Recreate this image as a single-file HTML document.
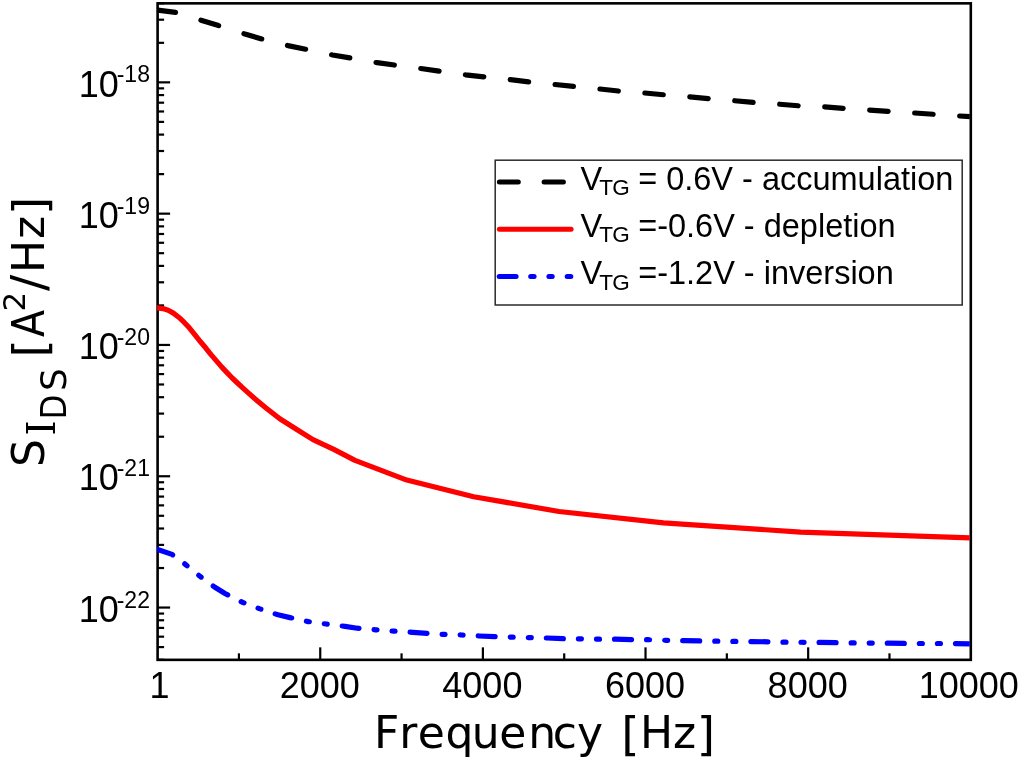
<!DOCTYPE html>
<html><head><meta charset="utf-8"><title>Noise spectra</title>
<style>
html,body{margin:0;padding:0;background:#fff;}
svg{display:block}
.tk{font-family:"Liberation Sans",sans-serif;font-size:36px;fill:#000}
.sup{font-family:"Liberation Sans",sans-serif;font-size:23px;fill:#000}
.lg{font-family:"Liberation Sans",sans-serif;font-size:32.5px;fill:#000}
.lgs{font-family:"Liberation Sans",sans-serif;font-size:22.5px;fill:#000;letter-spacing:-0.6px}
.ax{font-family:"DejaVu Sans",sans-serif;font-size:44px;fill:#000}
</style></head><body>
<svg width="1020" height="759" viewBox="0 0 1020 759">
<rect width="1020" height="759" fill="#fff"/>
<defs><clipPath id="cp"><rect x="157.1" y="3.35" width="812.7" height="656.5"/></clipPath></defs>

<g stroke="#000" stroke-width="2.2" fill="none">
<line x1="157.6" y1="659.80" x2="164.1" y2="659.80"/>
<line x1="157.6" y1="647.08" x2="164.1" y2="647.08"/>
<line x1="157.6" y1="636.68" x2="164.1" y2="636.68"/>
<line x1="157.6" y1="627.89" x2="164.1" y2="627.89"/>
<line x1="157.6" y1="620.27" x2="164.1" y2="620.27"/>
<line x1="157.6" y1="613.56" x2="164.1" y2="613.56"/>
<line x1="157.6" y1="607.55" x2="170.1" y2="607.55"/>
<line x1="157.6" y1="568.02" x2="164.1" y2="568.02"/>
<line x1="157.6" y1="544.90" x2="164.1" y2="544.90"/>
<line x1="157.6" y1="528.50" x2="164.1" y2="528.50"/>
<line x1="157.6" y1="515.78" x2="164.1" y2="515.78"/>
<line x1="157.6" y1="505.38" x2="164.1" y2="505.38"/>
<line x1="157.6" y1="496.59" x2="164.1" y2="496.59"/>
<line x1="157.6" y1="488.97" x2="164.1" y2="488.97"/>
<line x1="157.6" y1="482.26" x2="164.1" y2="482.26"/>
<line x1="157.6" y1="476.25" x2="170.1" y2="476.25"/>
<line x1="157.6" y1="436.72" x2="164.1" y2="436.72"/>
<line x1="157.6" y1="413.60" x2="164.1" y2="413.60"/>
<line x1="157.6" y1="397.20" x2="164.1" y2="397.20"/>
<line x1="157.6" y1="384.48" x2="164.1" y2="384.48"/>
<line x1="157.6" y1="374.08" x2="164.1" y2="374.08"/>
<line x1="157.6" y1="365.29" x2="164.1" y2="365.29"/>
<line x1="157.6" y1="357.67" x2="164.1" y2="357.67"/>
<line x1="157.6" y1="350.96" x2="164.1" y2="350.96"/>
<line x1="157.6" y1="344.95" x2="170.1" y2="344.95"/>
<line x1="157.6" y1="305.42" x2="164.1" y2="305.42"/>
<line x1="157.6" y1="282.30" x2="164.1" y2="282.30"/>
<line x1="157.6" y1="265.90" x2="164.1" y2="265.90"/>
<line x1="157.6" y1="253.18" x2="164.1" y2="253.18"/>
<line x1="157.6" y1="242.78" x2="164.1" y2="242.78"/>
<line x1="157.6" y1="233.99" x2="164.1" y2="233.99"/>
<line x1="157.6" y1="226.37" x2="164.1" y2="226.37"/>
<line x1="157.6" y1="219.66" x2="164.1" y2="219.66"/>
<line x1="157.6" y1="213.65" x2="170.1" y2="213.65"/>
<line x1="157.6" y1="174.12" x2="164.1" y2="174.12"/>
<line x1="157.6" y1="151.00" x2="164.1" y2="151.00"/>
<line x1="157.6" y1="134.60" x2="164.1" y2="134.60"/>
<line x1="157.6" y1="121.88" x2="164.1" y2="121.88"/>
<line x1="157.6" y1="111.48" x2="164.1" y2="111.48"/>
<line x1="157.6" y1="102.69" x2="164.1" y2="102.69"/>
<line x1="157.6" y1="95.07" x2="164.1" y2="95.07"/>
<line x1="157.6" y1="88.36" x2="164.1" y2="88.36"/>
<line x1="157.6" y1="82.35" x2="170.1" y2="82.35"/>
<line x1="157.6" y1="42.82" x2="164.1" y2="42.82"/>
<line x1="157.6" y1="19.70" x2="164.1" y2="19.70"/>
<line x1="157.6" y1="3.30" x2="164.1" y2="3.30"/>
<line x1="238.92" y1="659.85" x2="238.92" y2="653.35"/>
<line x1="320.24" y1="659.85" x2="320.24" y2="647.35"/>
<line x1="401.56" y1="659.85" x2="401.56" y2="653.35"/>
<line x1="482.88" y1="659.85" x2="482.88" y2="647.35"/>
<line x1="564.20" y1="659.85" x2="564.20" y2="653.35"/>
<line x1="645.52" y1="659.85" x2="645.52" y2="647.35"/>
<line x1="726.84" y1="659.85" x2="726.84" y2="653.35"/>
<line x1="808.16" y1="659.85" x2="808.16" y2="647.35"/>
<line x1="889.48" y1="659.85" x2="889.48" y2="653.35"/>
</g>
<rect x="157.6" y="3.35" width="813.2" height="656.5" fill="none" stroke="#000" stroke-width="2.6"/>
<g clip-path="url(#cp)" fill="none" stroke-width="5.2" stroke-linecap="round" stroke-linejoin="round">
<polyline points="157.6,10.2 176.0,12.4 201.0,20.2 218.5,25.6 244.0,33.8 262.0,39.0 288.0,45.6 306.5,49.4 332.5,55.0 351.0,58.1 377.0,62.7 395.0,65.1 420.5,68.5 440.0,71.2 465.5,74.8 484.5,76.9 510.5,79.6 530.0,82.0 555.0,84.5 574.0,86.5 600.0,89.0 619.0,91.1 644.5,93.0 664.0,94.8 689.5,96.9 709.0,98.7 734.5,100.7 754.0,102.5 779.5,104.2 798.5,105.8 824.5,106.9 844.0,108.4 869.5,110.1 888.5,111.4 914.5,113.0 933.5,114.3 959.5,116.0 970.8,116.6" stroke="#000" stroke-dasharray="18.5 26.6" stroke-dashoffset="0.45"/>
<polyline points="157.6,307.9 162.9,308.6 168.2,310.3 173.4,313.1 178.7,317.2 184.0,322.2 189.3,327.8 195.0,334.8 200.5,341.8 206.0,348.3 211.0,354.6 216.0,360.4 221.6,366.9 227.0,372.6 232.2,378.0 237.5,383.0 242.7,387.8 248.0,392.6 254.9,398.8 266.0,407.9 279.8,418.8 296.4,429.3 313.0,439.6 333.8,449.4 355.0,460.4 406.8,480.1 473.7,496.7 559.1,511.5 663.5,522.9 800.6,532.1 970.8,537.9" stroke="#f00"/>
<polyline points="157.6,549.5 172.0,554.4 184.4,563.6 199.0,575.5 214.5,587.0 225.0,593.5 241.8,602.0 259.3,608.6 278.0,614.8 290.0,617.6 308.3,621.6 326.0,624.0 345.0,626.4 357.3,628.2 375.5,629.8 393.5,631.1 413.0,632.4 427.0,633.4 444.1,634.4 461.8,635.0 479.0,636.0 494.5,636.7 511.8,637.1 529.7,637.6 547.0,638.0 563.0,638.7 580.0,638.8 597.6,639.1 615.0,639.2 631.0,639.6 648.0,639.7 665.9,640.3 683.9,640.7 715.9,641.2 749.1,641.5 783.8,642.1 817.0,642.4 852.0,642.9 885.3,643.2 920.3,643.5 953.5,643.5 970.8,643.8" stroke="#00f" stroke-dasharray="17 15.07 3 15.07 3 15.06" stroke-dashoffset="1"/>
</g>

<text class="tk" x="78.7" y="621.75">10</text><text class="sup" x="116.7" y="607.55">-22</text>
<text class="tk" x="78.7" y="490.45">10</text><text class="sup" x="116.7" y="476.25">-21</text>
<text class="tk" x="78.7" y="359.15">10</text><text class="sup" x="116.7" y="344.95">-20</text>
<text class="tk" x="78.7" y="227.85">10</text><text class="sup" x="116.7" y="213.65">-19</text>
<text class="tk" x="78.7" y="96.55">10</text><text class="sup" x="116.7" y="82.35">-18</text>
<text class="tk" x="159.60" y="697.6" text-anchor="middle">1</text>
<text class="tk" x="319.74" y="697.6" text-anchor="middle">2000</text>
<text class="tk" x="482.38" y="697.6" text-anchor="middle">4000</text>
<text class="tk" x="645.02" y="697.6" text-anchor="middle">6000</text>
<text class="tk" x="807.66" y="697.6" text-anchor="middle">8000</text>
<text class="tk" x="968.80" y="697.6" text-anchor="middle">10000</text>
<text id="xl" class="ax" x="374.1 399.3 417.8 445.5 471.8 499.2 528.3 552.7 576.9 605.9 621.3 640 673.1 696.8" y="747.7 747.7 747.7 747.7 747.7 747.7 747.7 747.7 747.7 747.7 749.9 747.7 747.7 749.9">Frequency <tspan font-size="47">[</tspan>Hz<tspan font-size="47">]</tspan></text>
<g transform="translate(43.9,465) rotate(-90)"><text class="ax" x="-1.9 29.3 45.5 74.1 97 107.6 127.9 153.6 174.1 192.1 226.1 250" y="0 11.3 21.7 21.7 0 2.2 0 -19.3 1.5 0 0 2.2">S<tspan font-size="39" font-family="DejaVu Serif, serif">I</tspan><tspan font-size="36"><tspan font-family="DejaVu Sans Condensed, DejaVu Sans, sans-serif">D</tspan>S</tspan> <tspan font-size="47">[</tspan><tspan font-family="DejaVu Sans Condensed, DejaVu Sans, sans-serif">A</tspan><tspan font-size="31">2</tspan><tspan font-size="48">/</tspan>Hz<tspan font-size="47">]</tspan></text></g>
<rect x="495.2" y="160.2" width="467" height="144.8" fill="#fff" stroke="#2a2a2a" stroke-width="1.5"/>
<g fill="none" stroke-width="5" stroke-linecap="round">
<line x1="499.4" y1="182.1" x2="518.3" y2="182.1" stroke="#000"/><line x1="544.1" y1="182.1" x2="563.4" y2="182.1" stroke="#000"/>
<line x1="499.4" y1="229.3" x2="571.1" y2="229.3" stroke="#f00"/>
<line x1="499.2" y1="276.4" x2="516.1" y2="276.4" stroke="#00f"/><line x1="530.7" y1="276.4" x2="534.1" y2="276.4" stroke="#00f"/><line x1="548.9" y1="276.4" x2="552.2" y2="276.4" stroke="#00f"/><line x1="567.2" y1="276.4" x2="570.8" y2="276.4" stroke="#00f"/>
</g>
<text class="lg" x="580.6" y="189.5">V<tspan class="lgs" dx="-3.1" dy="5.7">TG</tspan><tspan dx="-0.1" dy="-5.7"> = 0.6V - accumulation</tspan></text>
<text class="lg" x="580.6" y="236.7">V<tspan class="lgs" dx="-3.1" dy="5.7">TG</tspan><tspan dx="-0.1" dy="-5.7"> =-0.6V - depletion</tspan></text>
<text class="lg" x="580.6" y="283.9">V<tspan class="lgs" dx="-3.1" dy="5.7">TG</tspan><tspan dx="-0.1" dy="-5.7"> =-1.2V - inversion</tspan></text>
</svg></body></html>
